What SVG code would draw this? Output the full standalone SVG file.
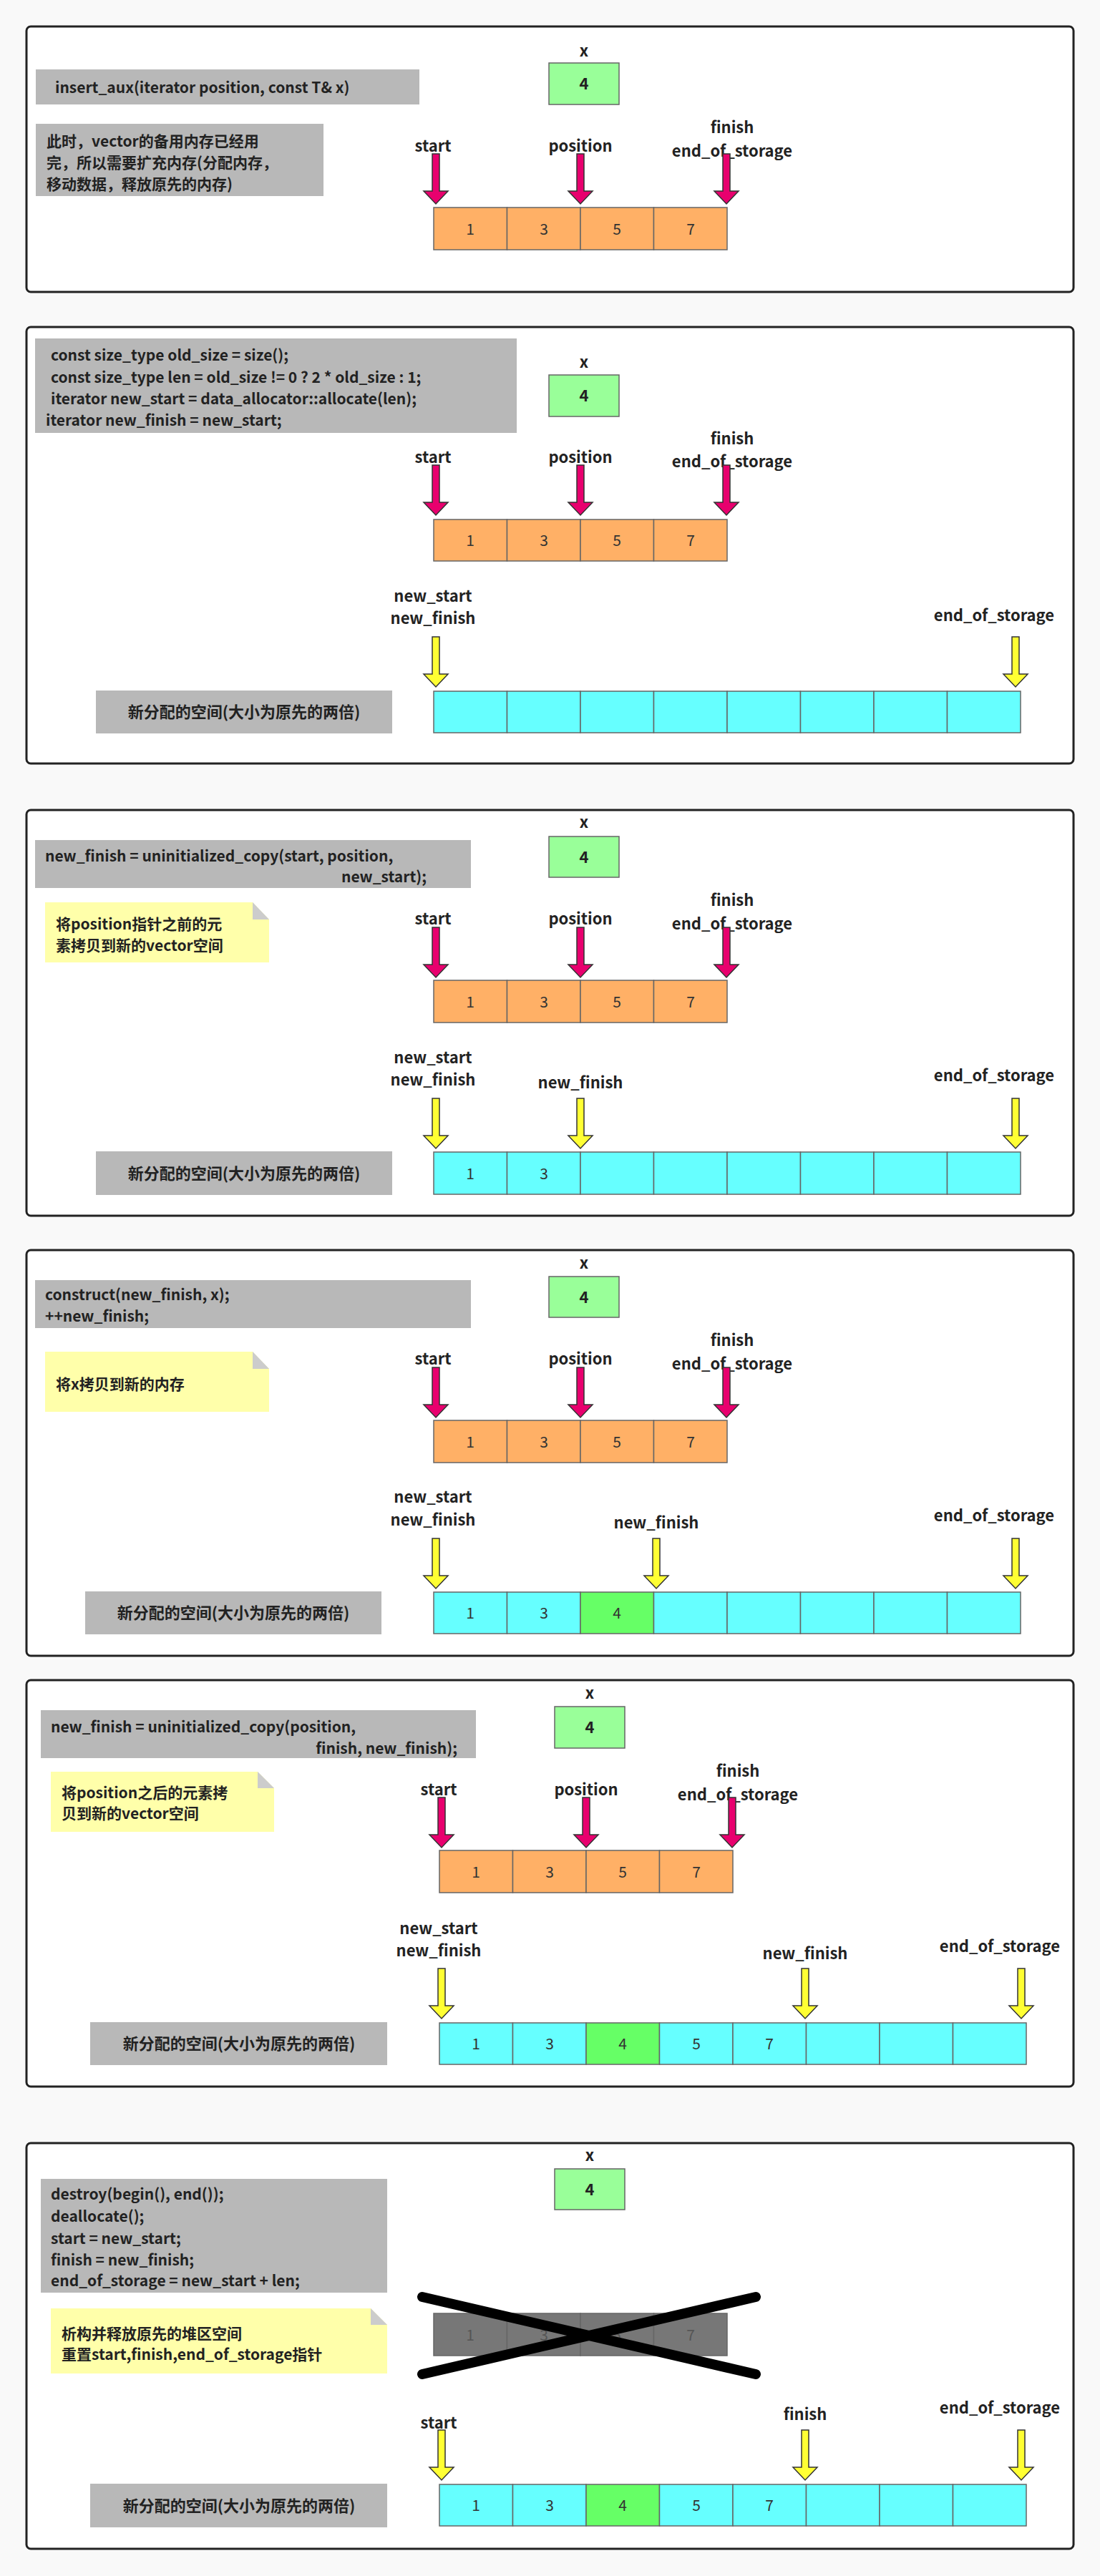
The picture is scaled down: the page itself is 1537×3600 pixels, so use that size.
<svg xmlns="http://www.w3.org/2000/svg" xmlns:xlink="http://www.w3.org/1999/xlink" width="1537" height="3600" viewBox="0 0 1537 3600">
<defs>
<style>
text{font-family:"Noto Sans CJK SC","Noto Sans",sans-serif;fill:#222}
.l{font-size:22px;font-weight:bold;text-anchor:middle}
.t{font-size:21px;font-weight:bold}
.m{font-size:22px;font-weight:bold;text-anchor:middle}
.n{font-size:21px;text-anchor:middle;fill:#333}
.frame{fill:#fff;stroke:#222;stroke-width:3}
.gb{fill:#b8b8b8}
.note{fill:#ffffaa}
.fold{fill:#cccccc}
.o{fill:#ffb066;stroke:#666;stroke-width:1.5}
.c{fill:#66ffff;stroke:#666;stroke-width:1.5}
.g{fill:#66ff66;stroke:#666;stroke-width:1.5}
.d{fill:#777;stroke:#666;stroke-width:1.5}
.xb{fill:#99ff99;stroke:#666;stroke-width:1.5}
</style>
<path id="ra" d="M-5,0H5V52H17L0,70L-17,52H-5Z" fill="#e8006e" stroke="#333" stroke-width="1.5"/>
<path id="ya" d="M-5,0H5V52H17L0,70L-17,52H-5Z" fill="#ffff33" stroke="#333" stroke-width="1.5"/>
</defs>
<rect width="1537" height="3600" fill="#f9f9f9"/>

<g id="panel1">
<rect class="frame" x="37" y="37" width="1463" height="371" rx="6"/>
<rect class="gb" x="50" y="97" width="536" height="49"/>
<text class="t" x="77" y="130">insert_aux(iterator position, const T&amp; x)</text>
<rect class="gb" x="50" y="173" width="402" height="101"/>
<text class="t" x="65" y="205">此时，vector的备用内存已经用</text>
<text class="t" x="65" y="235">完，所以需要扩充内存(分配内存，</text>
<text class="t" x="65" y="265">移动数据，释放原先的内存)</text>
<text class="l" x="816" y="79">x</text>
<rect class="xb" x="767" y="88" width="98" height="58"/>
<text class="m" x="816" y="125">4</text>
<text class="l" x="605" y="212">start</text>
<text class="l" x="811" y="212">position</text>
<text class="l" x="1023" y="186">finish</text>
<text class="l" x="1023" y="219">end_of_storage</text>
<g transform="translate(606,290)">
<rect class="o" x="0" width="102.5" height="59"/><rect class="o" x="102.5" width="102.5" height="59"/><rect class="o" x="205" width="102.5" height="59"/><rect class="o" x="307.5" width="102.5" height="59"/>
<text class="n" x="51" y="38">1</text><text class="n" x="154" y="38">3</text><text class="n" x="256" y="38">5</text><text class="n" x="359" y="38">7</text>
</g>
</g>

<g id="panel2">
<rect class="frame" x="37" y="457" width="1463" height="610" rx="6"/>
<rect class="gb" x="49" y="473" width="673" height="132"/>
<text class="t" x="71" y="504">const size_type old_size = size();</text>
<text class="t" x="71" y="535">const size_type len = old_size != 0 ? 2 * old_size : 1;</text>
<text class="t" x="71" y="565">iterator new_start = data_allocator::allocate(len);</text>
<text class="t" x="64" y="595">iterator new_finish = new_start;</text>
<text class="l" x="816" y="514">x</text>
<rect class="xb" x="767" y="524" width="98" height="58"/>
<text class="m" x="816" y="561">4</text>
<text class="l" x="605" y="647">start</text>
<text class="l" x="811" y="647">position</text>
<text class="l" x="1023" y="621">finish</text>
<text class="l" x="1023" y="653">end_of_storage</text>
<g transform="translate(606,726)">
<rect class="o" x="0" width="102.5" height="58"/><rect class="o" x="102.5" width="102.5" height="58"/><rect class="o" x="205" width="102.5" height="58"/><rect class="o" x="307.5" width="102.5" height="58"/>
<text class="n" x="51" y="37">1</text><text class="n" x="154" y="37">3</text><text class="n" x="256" y="37">5</text><text class="n" x="359" y="37">7</text>
</g>
<text class="l" x="605" y="841">new_start</text>
<text class="l" x="605" y="872">new_finish</text>
<text class="l" x="1389" y="868">end_of_storage</text>
<rect class="gb" x="134" y="965" width="414" height="60"/>
<text class="m" x="341" y="1003">新分配的空间(大小为原先的两倍)</text>
<g transform="translate(606,966)">
<rect class="c" x="0" width="102.5" height="58"/><rect class="c" x="102.5" width="102.5" height="58"/><rect class="c" x="205" width="102.5" height="58"/><rect class="c" x="307.5" width="102.5" height="58"/><rect class="c" x="410" width="102.5" height="58"/><rect class="c" x="512.5" width="102.5" height="58"/><rect class="c" x="615" width="102.5" height="58"/><rect class="c" x="717.5" width="102.5" height="58"/>
</g>
</g>

<g id="panel3">
<rect class="frame" x="37" y="1132" width="1463" height="567" rx="6"/>
<rect class="gb" x="49" y="1174" width="609" height="67"/>
<text class="t" x="63" y="1204">new_finish = uninitialized_copy(start, position,</text>
<text class="t" x="596" y="1233" text-anchor="end">new_start);</text>
<path class="note" d="M63,1261H353L376,1285V1345H63Z"/>
<path class="fold" d="M353,1261L376,1285H353Z"/>
<text class="t" x="78" y="1299">将position指针之前的元</text>
<text class="t" x="78" y="1329">素拷贝到新的vector空间</text>
<text class="l" x="816" y="1157">x</text>
<rect class="xb" x="767" y="1169" width="98" height="57"/>
<text class="m" x="816" y="1206">4</text>
<text class="l" x="605" y="1292">start</text>
<text class="l" x="811" y="1292">position</text>
<text class="l" x="1023" y="1266">finish</text>
<text class="l" x="1023" y="1299">end_of_storage</text>
<g transform="translate(606,1370)">
<rect class="o" x="0" width="102.5" height="59"/><rect class="o" x="102.5" width="102.5" height="59"/><rect class="o" x="205" width="102.5" height="59"/><rect class="o" x="307.5" width="102.5" height="59"/>
<text class="n" x="51" y="38">1</text><text class="n" x="154" y="38">3</text><text class="n" x="256" y="38">5</text><text class="n" x="359" y="38">7</text>
</g>
<text class="l" x="605" y="1486">new_start</text>
<text class="l" x="605" y="1517">new_finish</text>
<text class="l" x="811" y="1521">new_finish</text>
<text class="l" x="1389" y="1511">end_of_storage</text>
<rect class="gb" x="134" y="1609" width="414" height="61"/>
<text class="m" x="341" y="1648">新分配的空间(大小为原先的两倍)</text>
<g transform="translate(606,1610)">
<rect class="c" x="0" width="102.5" height="59"/><rect class="c" x="102.5" width="102.5" height="59"/><rect class="c" x="205" width="102.5" height="59"/><rect class="c" x="307.5" width="102.5" height="59"/><rect class="c" x="410" width="102.5" height="59"/><rect class="c" x="512.5" width="102.5" height="59"/><rect class="c" x="615" width="102.5" height="59"/><rect class="c" x="717.5" width="102.5" height="59"/>
<text class="n" x="51" y="38">1</text><text class="n" x="154" y="38">3</text>
</g>
</g>

<g id="panel4">
<rect class="frame" x="37" y="1747" width="1463" height="567" rx="6"/>
<rect class="gb" x="49" y="1789" width="609" height="67"/>
<text class="t" x="63" y="1817">construct(new_finish, x);</text>
<text class="t" x="63" y="1847">++new_finish;</text>
<path class="note" d="M63,1889H353L376,1913V1973H63Z"/>
<path class="fold" d="M353,1889L376,1913H353Z"/>
<text class="t" x="78" y="1942">将x拷贝到新的内存</text>
<text class="l" x="816" y="1773">x</text>
<rect class="xb" x="767" y="1784" width="98" height="57"/>
<text class="m" x="816" y="1821">4</text>
<text class="l" x="605" y="1907">start</text>
<text class="l" x="811" y="1907">position</text>
<text class="l" x="1023" y="1881">finish</text>
<text class="l" x="1023" y="1914">end_of_storage</text>
<g transform="translate(606,1985)">
<rect class="o" x="0" width="102.5" height="59"/><rect class="o" x="102.5" width="102.5" height="59"/><rect class="o" x="205" width="102.5" height="59"/><rect class="o" x="307.5" width="102.5" height="59"/>
<text class="n" x="51" y="38">1</text><text class="n" x="154" y="38">3</text><text class="n" x="256" y="38">5</text><text class="n" x="359" y="38">7</text>
</g>
<text class="l" x="605" y="2100">new_start</text>
<text class="l" x="605" y="2132">new_finish</text>
<text class="l" x="917" y="2136">new_finish</text>
<text class="l" x="1389" y="2126">end_of_storage</text>
<rect class="gb" x="119" y="2224" width="414" height="60"/>
<text class="m" x="326" y="2262">新分配的空间(大小为原先的两倍)</text>
<g transform="translate(606,2225)">
<rect class="c" x="0" width="102.5" height="58"/><rect class="c" x="102.5" width="102.5" height="58"/><rect class="g" x="205" width="102.5" height="58"/><rect class="c" x="307.5" width="102.5" height="58"/><rect class="c" x="410" width="102.5" height="58"/><rect class="c" x="512.5" width="102.5" height="58"/><rect class="c" x="615" width="102.5" height="58"/><rect class="c" x="717.5" width="102.5" height="58"/>
<text class="n" x="51" y="37">1</text><text class="n" x="154" y="37">3</text><text class="n" x="256" y="37">4</text>
</g>
</g>

<g id="panel5">
<rect class="frame" x="37" y="2348" width="1463" height="568" rx="6"/>
<rect class="gb" x="57" y="2390" width="608" height="67"/>
<text class="t" x="71" y="2421">new_finish = uninitialized_copy(position,</text>
<text class="t" x="639" y="2451" text-anchor="end">finish,  new_finish);</text>
<path class="note" d="M71,2476H360L383,2499V2560H71Z"/>
<path class="fold" d="M360,2476L383,2499H360Z"/>
<text class="t" x="86" y="2513">将position之后的元素拷</text>
<text class="t" x="86" y="2542">贝到新的vector空间</text>
<text class="l" x="824" y="2374">x</text>
<rect class="xb" x="775" y="2385" width="98" height="58"/>
<text class="m" x="824" y="2422">4</text>
<text class="l" x="613" y="2509">start</text>
<text class="l" x="819" y="2509">position</text>
<text class="l" x="1031" y="2483">finish</text>
<text class="l" x="1031" y="2516">end_of_storage</text>
<g transform="translate(614,2586)">
<rect class="o" x="0" width="102.5" height="59"/><rect class="o" x="102.5" width="102.5" height="59"/><rect class="o" x="205" width="102.5" height="59"/><rect class="o" x="307.5" width="102.5" height="59"/>
<text class="n" x="51" y="38">1</text><text class="n" x="154" y="38">3</text><text class="n" x="256" y="38">5</text><text class="n" x="359" y="38">7</text>
</g>
<text class="l" x="613" y="2703">new_start</text>
<text class="l" x="613" y="2734">new_finish</text>
<text class="l" x="1125" y="2738">new_finish</text>
<text class="l" x="1397" y="2728">end_of_storage</text>
<rect class="gb" x="126" y="2826" width="415" height="60"/>
<text class="m" x="334" y="2864">新分配的空间(大小为原先的两倍)</text>
<g transform="translate(614,2827)">
<rect class="c" x="0" width="102.5" height="58"/><rect class="c" x="102.5" width="102.5" height="58"/><rect class="g" x="205" width="102.5" height="58"/><rect class="c" x="307.5" width="102.5" height="58"/><rect class="c" x="410" width="102.5" height="58"/><rect class="c" x="512.5" width="102.5" height="58"/><rect class="c" x="615" width="102.5" height="58"/><rect class="c" x="717.5" width="102.5" height="58"/>
<text class="n" x="51" y="37">1</text><text class="n" x="154" y="37">3</text><text class="n" x="256" y="37">4</text><text class="n" x="359" y="37">5</text><text class="n" x="461" y="37">7</text>
</g>
</g>

<g id="panel6">
<rect class="frame" x="37" y="2995" width="1463" height="567" rx="6"/>
<rect class="gb" x="57" y="3045" width="484" height="159"/>
<text class="t" x="71" y="3074">destroy(begin(), end());</text>
<text class="t" x="71" y="3105">deallocate();</text>
<text class="t" x="71" y="3136">start = new_start;</text>
<text class="t" x="71" y="3166">finish = new_finish;</text>
<text class="t" x="71" y="3195">end_of_storage = new_start + len;</text>
<path class="note" d="M71,3226H518L541,3249V3317H71Z"/>
<path class="fold" d="M518,3226L541,3249H518Z"/>
<text class="t" x="86" y="3269">析构并释放原先的堆区空间</text>
<text class="t" x="86" y="3298">重置start,finish,end_of_storage指针</text>
<text class="l" x="824" y="3020">x</text>
<rect class="xb" x="775" y="3031" width="98" height="57"/>
<text class="m" x="824" y="3068">4</text>
<g transform="translate(606,3233)">
<rect class="d" x="0" width="102.5" height="59"/><rect class="d" x="102.5" width="102.5" height="59"/><rect class="d" x="205" width="102.5" height="59"/><rect class="d" x="307.5" width="102.5" height="59"/>
<text class="n" x="51" y="38" style="fill:#555">1</text><text class="n" x="154" y="38" style="fill:#555">3</text><text class="n" x="256" y="38" style="fill:#555">5</text><text class="n" x="359" y="38" style="fill:#555">7</text>
</g>
<path d="M590,3210L1056,3318M590,3318L1056,3210" stroke="#000" stroke-width="14" stroke-linecap="round"/>
<text class="l" x="613" y="3394">start</text>
<text class="l" x="1125" y="3382">finish</text>
<text class="l" x="1397" y="3373">end_of_storage</text>
<rect class="gb" x="126" y="3471" width="415" height="61"/>
<text class="m" x="334" y="3510">新分配的空间(大小为原先的两倍)</text>
<g transform="translate(614,3472)">
<rect class="c" x="0" width="102.5" height="58"/><rect class="c" x="102.5" width="102.5" height="58"/><rect class="g" x="205" width="102.5" height="58"/><rect class="c" x="307.5" width="102.5" height="58"/><rect class="c" x="410" width="102.5" height="58"/><rect class="c" x="512.5" width="102.5" height="58"/><rect class="c" x="615" width="102.5" height="58"/><rect class="c" x="717.5" width="102.5" height="58"/>
<text class="n" x="51" y="37">1</text><text class="n" x="154" y="37">3</text><text class="n" x="256" y="37">4</text><text class="n" x="359" y="37">5</text><text class="n" x="461" y="37">7</text>
</g>
</g>

<g id="connectors">
<use xlink:href="#ra" x="609" y="215"/><use xlink:href="#ra" x="811" y="215"/><use xlink:href="#ra" x="1015" y="215"/>
<use xlink:href="#ra" x="609" y="650"/><use xlink:href="#ra" x="811" y="650"/><use xlink:href="#ra" x="1015" y="650"/>
<use xlink:href="#ya" x="609" y="890"/><use xlink:href="#ya" x="1419" y="890"/>
<use xlink:href="#ra" x="609" y="1296"/><use xlink:href="#ra" x="811" y="1296"/><use xlink:href="#ra" x="1015" y="1296"/>
<use xlink:href="#ya" x="609" y="1535"/><use xlink:href="#ya" x="811" y="1535"/><use xlink:href="#ya" x="1419" y="1535"/>
<use xlink:href="#ra" x="609" y="1911"/><use xlink:href="#ra" x="811" y="1911"/><use xlink:href="#ra" x="1015" y="1911"/>
<use xlink:href="#ya" x="609" y="2150"/><use xlink:href="#ya" x="917" y="2150"/><use xlink:href="#ya" x="1419" y="2150"/>
<use xlink:href="#ra" x="617" y="2512"/><use xlink:href="#ra" x="819" y="2512"/><use xlink:href="#ra" x="1023" y="2512"/>
<use xlink:href="#ya" x="617" y="2751"/><use xlink:href="#ya" x="1125" y="2751"/><use xlink:href="#ya" x="1427" y="2751"/>
<use xlink:href="#ya" x="617" y="3396"/><use xlink:href="#ya" x="1125" y="3396"/><use xlink:href="#ya" x="1427" y="3396"/>
</g>
</svg>
